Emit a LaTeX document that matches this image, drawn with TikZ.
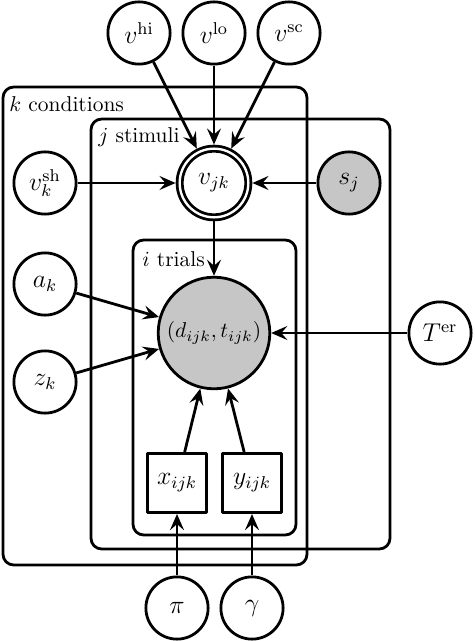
\documentclass[tikz,border=0pt]{standalone}
\usetikzlibrary{arrows.meta}
\begin{document}
\begin{tikzpicture}[x=0.466pt,y=-0.466pt,line width=1.3pt,line join=round,>={Stealth[length=7.5pt,width=6.5pt,inset=2.8pt]}]
	\tikzset{latent/.style={circle,draw,minimum size=29pt,inner sep=0pt,font=\large},
	obs/.style={latent,fill=gray!45},
	dbl/.style={circle,draw,double,double distance=1.1pt,minimum size=32pt,inner sep=0pt,outer sep=1.9pt,font=\large},
	box/.style={rectangle,draw,minimum size=27.6pt,inner sep=0pt,font=\large},
	plate/.style={rounded corners=5pt},
	platelabel/.style={anchor=west,inner sep=0pt}}
	\useasboundingbox(0,0)rectangle(474,641);
	% plates
	\draw[plate](3,87)rectangle(307,565);
	\draw[plate](91,119)rectangle(390,549);
	\draw[plate](133,240)rectangle(296,535);
	\node[platelabel](kl)at(8,104){$k$ conditions};
	\node[platelabel](jl)at(97,137){$j$ stimuli};
	\node[platelabel](il)at(141,259){$i$ trials};
	% nodes
	\node[latent](vhi)at(139,33){$v^{\mathrm{hi}}$};
	\node[latent](vlo)at(214,33){$v^{\mathrm{lo}}$};
	\node[latent](vsc)at(289,33){$v^{\mathrm{sc}}$};
	\node[dbl](vjk)at(214,183){$v_{jk}$};
	\node[latent](vsh)at(45,183){$v^{\mathrm{sh}}_k$};
	\node[obs](sj)at(349,183){$s_j$};
	\node[latent](ak)at(45,284){$a_k$};
	\node[latent](zk)at(45,382){$z_k$};
	\node[obs,minimum size=52pt,font=\normalsize](dt)at(214,333){$(d_{ijk},t_{ijk})$};
	\node[latent](ter)at(440,333){$T^{\mathrm{er}}$};
	\node[box](xijk)at(177,483){$x_{ijk}$};
	\node[box](yijk)at(252,483){$y_{ijk}$};
	\node[latent](pi)at(177,608){$\pi$};
	\node[latent](gam)at(252,608){$\gamma$};
	% edges
	\foreach \s in {vhi,vlo,vsc,vsh,sj}\draw[->](\s)--(vjk);
	\foreach \s in {vjk,ak,zk,ter,xijk,yijk}\draw[->](\s)--(dt);
	\draw[->](pi)--(xijk);
	\draw[->](gam)--(yijk);
\end{tikzpicture}
\end{document}
